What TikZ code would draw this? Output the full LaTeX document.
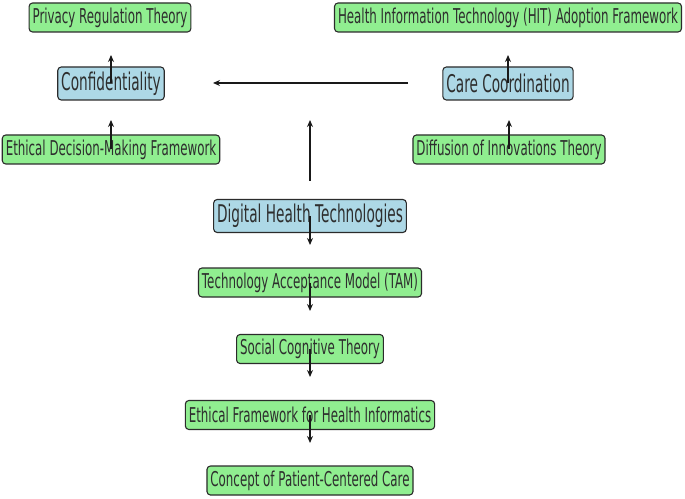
\documentclass[tikz,border=0pt]{standalone}
\usepackage{fontspec}
\newfontfamily\dv[FakeStretch=0.56]{DejaVu Sans}
\newfontfamily\dvg[FakeStretch=0.58]{DejaVu Sans}
\usetikzlibrary{arrows.meta}
\definecolor{boxgreen}{HTML}{90EE90}
\definecolor{boxblue}{HTML}{ADD8E6}
\definecolor{edgegray}{HTML}{2B2B2B}
\tikzset{
  base/.style={draw=edgegray, line width=1.1pt, rounded corners=3.5pt, inner xsep=3.5pt, inner ysep=0pt, text=black!82, anchor=center},
  greenbox/.style={base, fill=boxgreen, minimum height=29bp, font=\dvg\fontsize{20.5}{22}\selectfont},
  bluebox/.style={base, fill=boxblue, minimum height=33bp, font=\dv\fontsize{24.5}{26}\selectfont},
  arr/.style={line width=1.5pt, black!90, -{Stealth[length=7pt,width=6pt]}}
}
\begin{document}
\begin{tikzpicture}[x=1bp,y=-1bp]
\useasboundingbox (0,0) rectangle (685,499);
\node[greenbox] (prt) at (110,17.5) {Privacy Regulation Theory};
\node[bluebox] (conf) at (111,83.5) {Confidentiality};
\node[greenbox] (edm) at (111,149.5) {Ethical Decision-Making Framework};
\node[greenbox] (hit) at (508,17.5) {Health Information Technology (HIT) Adoption Framework};
\node[bluebox] (cc) at (508,83.5) {Care Coordination};
\node[greenbox] (dit) at (509,149.5) {Diffusion of Innovations Theory};
\node[bluebox] (dht) at (310,216) {Digital Health Technologies};
\node[greenbox] (tam) at (310,282.5) {Technology Acceptance Model (TAM)};
\node[greenbox] (sct) at (310,349) {Social Cognitive Theory};
\node[greenbox] (efhi) at (310,415) {Ethical Framework for Health Informatics};
\node[greenbox] (pcc) at (310,480.5) {Concept of Patient-Centered Care};
\coordinate (confTip) at (111,55);
\coordinate (edmTip) at (111,120);
\coordinate (ccTip) at (508,55);
\coordinate (ditTip) at (509,120);
\coordinate (upStart) at (310,181);
\coordinate (upTip) at (310,120);
\coordinate (hStart) at (408,83);
\coordinate (hTip) at (213,83);
\coordinate (dhtTip) at (310,245);
\coordinate (tamTip) at (310,311);
\coordinate (sctTip) at (310,377);
\coordinate (efhiTip) at (310,443);
\draw[arr] (conf.center) -- (confTip);
\draw[arr] (edm.center) -- (edmTip);
\draw[arr] (cc.center) -- (ccTip);
\draw[arr] (dit.center) -- (ditTip);
\draw[arr] (upStart) -- (upTip);
\draw[arr] (hStart) -- (hTip);
\draw[arr] (dht.center) -- (dhtTip);
\draw[arr] (tam.center) -- (tamTip);
\draw[arr] (sct.center) -- (sctTip);
\draw[arr] (efhi.center) -- (efhiTip);
\end{tikzpicture}
\end{document}
